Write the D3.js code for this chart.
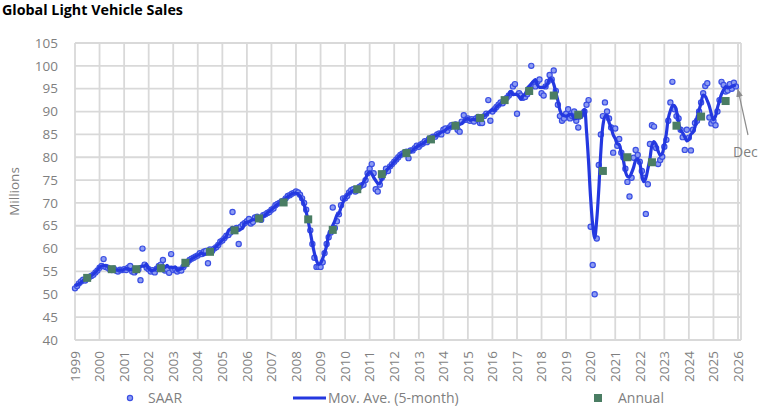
<!DOCTYPE html>
<html>
<head>
<meta charset="utf-8">
<script src="https://cdn.jsdelivr.net/npm/d3@7"></script>
<style>
  html, body { margin: 0; padding: 0; background: #fff; }
  svg { display: block; }
</style>
</head>
<body>
<div id="chart-container"></div>
<script>
// monthly SAAR, Jan..Dec for each year from 1999
const firstYear = 1999;
const saar = [
  51.3, 51.8, 52.4, 52.8, 53.2, 53.0, 53.5, 53.8, 54.0, 54.3, 54.8, 55.2, // 1999
  55.8, 56.2, 57.7, 56.0, 55.8, 55.5, 55.3, 55.6, 55.2, 55.0, 55.4, 55.3, // 2000
  55.5, 55.3, 55.8, 56.2, 55.0, 54.8, 55.4, 55.5, 53.1, 60.0, 56.5, 55.8, // 2001
  55.5, 55.0, 55.3, 54.8, 55.6, 56.2, 56.5, 57.5, 55.2, 55.5, 54.7, 58.8, // 2002
  55.3, 55.5, 55.0, 55.4, 55.2, 56.0, 56.5, 57.0, 57.5, 57.8, 58.0, 58.3, // 2003
  58.5, 59.0, 58.8, 59.3, 59.5, 56.8, 59.8, 59.5, 60.0, 60.3, 60.8, 61.5, // 2004
  61.8, 62.3, 62.8, 63.0, 63.5, 68.0, 64.2, 64.5, 61.0, 64.8, 65.3, 65.6, // 2005
  66.0, 66.5, 65.5, 65.8, 66.8, 67.0, 66.5, 66.3, 67.3, 67.5, 67.8, 68.0, // 2006
  68.5, 68.8, 69.5, 69.8, 70.0, 70.3, 70.5, 71.0, 71.5, 71.7, 72.0, 72.2, // 2007
  72.5, 72.3, 71.8, 71.0, 70.0, 68.5, 66.5, 64.0, 61.0, 58.0, 56.0, 56.0, // 2008
  56.0, 57.0, 59.0, 61.0, 62.5, 63.5, 69.0, 64.5, 66.0, 67.5, 69.5, 71.0, // 2009
  71.0, 71.5, 72.3, 72.8, 73.0, 72.5, 72.8, 73.5, 73.8, 74.0, 75.0, 76.5, // 2010
  77.5, 78.5, 76.5, 73.0, 72.5, 74.0, 75.5, 76.5, 77.5, 77.0, 78.0, 78.5, // 2011
  79.0, 79.5, 80.0, 80.5, 80.8, 81.0, 81.2, 79.8, 81.5, 81.5, 82.0, 82.5, // 2012
  82.3, 82.8, 83.0, 83.5, 83.3, 84.0, 84.2, 84.5, 84.5, 85.0, 85.2, 85.0, // 2013
  86.0, 86.3, 85.8, 86.5, 87.0, 86.8, 87.2, 86.0, 85.6, 87.8, 89.2, 88.2, // 2014
  88.5, 88.0, 88.3, 87.8, 88.5, 88.8, 87.5, 87.5, 89.0, 89.5, 92.5, 88.0, // 2015
  90.0, 90.5, 91.0, 91.5, 92.0, 91.8, 92.3, 93.0, 93.5, 94.0, 95.5, 96.0, // 2016
  89.5, 94.0, 93.5, 93.0, 93.2, 93.8, 95.0, 100.0, 96.0, 95.5, 96.5, 97.0, // 2017
  94.0, 93.5, 95.5, 96.5, 98.0, 97.0, 99.0, 94.5, 91.5, 89.0, 88.0, 88.5, // 2018
  89.5, 90.5, 88.5, 89.0, 90.0, 88.0, 86.5, 89.0, 89.5, 90.0, 91.5, 92.5, // 2019
  64.8, 56.4, 50.0, 62.2, 78.3, 85.0, 89.0, 92.0, 90.0, 88.5, 86.5, 81.0, // 2020
  86.3, 82.5, 84.0, 81.0, 80.0, 77.5, 74.6, 71.4, 75.5, 79.9, 81.6, 80.5, // 2021
  79.0, 77.0, 75.5, 67.6, 74.1, 82.9, 87.0, 86.7, 82.0, 78.5, 79.4, 80.1, // 2022
  82.3, 83.8, 88.0, 92.0, 96.5, 90.5, 89.0, 88.5, 86.0, 84.4, 81.6, 86.0, // 2023
  84.3, 81.5, 86.0, 87.5, 88.0, 90.0, 92.0, 94.0, 95.6, 96.2, 88.7, 87.4, // 2024
  88.0, 87.0, 90.0, 92.5, 96.5, 95.8, 94.4, 94.6, 96.0, 95.0, 96.3, 95.5  // 2025
];

const annualYears = d3.range(1999, 2026);
const annualSales = [
  53.6, 55.5, 55.5, 55.7, 56.9, 59.3, 64.0, 66.6, 70.1, 66.4,
  64.1, 73.0, 76.3, 80.9, 83.9, 86.9, 88.6, 92.5, 94.5, 93.5,
  89.3, 77.0, 80.0, 78.9, 86.9, 88.9, 92.3
];

const xTickYears = d3.range(1999, 2027);
const yTicks = d3.range(40, 106, 5);
const legendLabels = ['SAAR', 'Mov. Ave. (5-month)', 'Annual'];
const titleText = 'Global Light Vehicle Sales';
const yAxisTitle = 'Millions';
const noteText = 'Dec';

const width = 768;
const height = 413;
const margin = { top: 43, right: 27, bottom: 73, left: 75 };

const svg = d3.select('#chart-container')
    .append('svg')
    .attr('width', width)
    .attr('height', height);

const monthly = saar.map((v, i) => ({
  date: new Date(firstYear + Math.floor(i / 12), i % 12, 1),
  value: v
}));

// centred 5-month moving average
const movAve = monthly.map((d, i) => ({
  date: d.date,
  value: d3.mean(saar.slice(Math.max(0, i - 2), Math.min(saar.length, i + 3)))
}));

const x = d3.scaleTime()
    .domain([new Date(1999, 0, 1), new Date(2026, 0, 1)])
    .range([margin.left, 738]);
const y = d3.scaleLinear()
    .domain([40, 105])
    .range([height - margin.bottom, margin.top]);

const gridColor = '#d9d9d9';
const textColor = '#7f7f7f';
const axisFont = '"Open Sans", Lato, sans-serif';

// title
svg.append('text')
    .text(titleText)
    .attr('x', 2)
    .attr('y', 15)
    .attr('font-family', '"Open Sans", sans-serif')
    .attr('font-weight', 'bold')
    .attr('font-size', 14.3)
    .attr('fill', '#000');

// grid
const grid = svg.append('g');
grid.selectAll('.hgrid')
    .data(yTicks)
    .join('line')
    .attr('x1', margin.left)
    .attr('x2', 741)
    .attr('y1', d => y(d))
    .attr('y2', d => y(d))
    .attr('stroke', gridColor)
    .attr('stroke-width', 1.8);

grid.selectAll('.vgrid')
    .data(xTickYears)
    .join('line')
    .attr('x1', d => x(new Date(d, 0, 1)))
    .attr('x2', d => x(new Date(d, 0, 1)))
    .attr('y1', y(40))
    .attr('y2', y(105))
    .attr('stroke', gridColor)
    .attr('stroke-width', 1.8);

grid.append('line')
    .attr('x1', 741).attr('x2', 741)
    .attr('y1', y(40)).attr('y2', y(105))
    .attr('stroke', gridColor)
    .attr('stroke-width', 1.8);

// y labels
svg.append('g')
    .selectAll('text')
    .data(yTicks)
    .join('text')
    .text(d => d)
    .attr('x', 58)
    .attr('y', d => y(d))
    .attr('dy', '0.35em')
    .attr('text-anchor', 'end')
    .attr('font-family', axisFont)
    .attr('font-size', 13.5)
    .attr('fill', textColor);

// x labels, rotated
svg.append('g')
    .selectAll('text')
    .data(xTickYears)
    .join('text')
    .text(d => d)
    .attr('transform', d => `translate(${x(new Date(d, 0, 1))}, 351) rotate(-90)`)
    .attr('dy', '0.35em')
    .attr('text-anchor', 'end')
    .attr('font-family', axisFont)
    .attr('font-size', 13.5)
    .attr('fill', textColor);

svg.append('text')
    .text(yAxisTitle)
    .attr('transform', `translate(19, ${y(72.5)}) rotate(-90)`)
    .attr('text-anchor', 'middle')
    .attr('font-family', axisFont)
    .attr('font-size', 13.5)
    .attr('fill', textColor);

// SAAR points
const pointFill = '#8d9cf2';
const pointStroke = '#3b4fe3';
svg.append('g')
    .selectAll('circle')
    .data(monthly)
    .join('circle')
    .attr('cx', d => x(d.date))
    .attr('cy', d => y(d.value))
    .attr('r', 2.6)
    .attr('fill', pointFill)
    .attr('stroke', pointStroke)
    .attr('stroke-width', 1.2);

// moving average line
const line = d3.line()
    .x(d => x(d.date))
    .y(d => y(d.value))
    .curve(d3.curveCatmullRom);

svg.append('path')
    .datum(movAve)
    .attr('d', line)
    .attr('fill', 'none')
    .attr('stroke', '#2438e0')
    .attr('stroke-width', 3.2)
    .attr('stroke-linejoin', 'round');

// annual squares
const sq = 8;
svg.append('g')
    .selectAll('rect')
    .data(annualYears)
    .join('rect')
    .attr('x', (d, i) => x(new Date(d, 6, 1)) - sq / 2)
    .attr('y', (d, i) => y(annualSales[i]) - sq / 2)
    .attr('width', sq)
    .attr('height', sq)
    .attr('fill', '#4a7d63');

// Dec annotation
const last = monthly[monthly.length - 1];
svg.append('defs').append('marker')
    .attr('id', 'arrow')
    .attr('viewBox', '0 0 10 10')
    .attr('refX', 9).attr('refY', 5)
    .attr('markerWidth', 7).attr('markerHeight', 7)
    .attr('orient', 'auto-start-reverse')
    .append('path')
    .attr('d', 'M0,1 L10,5 L0,9 Z')
    .attr('fill', '#8c8c8c');

svg.append('line')
    .attr('x1', 748)
    .attr('y1', 135)
    .attr('x2', x(last.date) + 2)
    .attr('y2', y(last.value) + 3)
    .attr('stroke', '#8c8c8c')
    .attr('stroke-width', 1.2)
    .attr('marker-end', 'url(#arrow)');

svg.append('text')
    .text(noteText)
    .attr('x', 733)
    .attr('y', 157)
    .attr('font-family', axisFont)
    .attr('font-size', 14)
    .attr('fill', textColor);

// legend
const legendY = 398;
const legend = svg.append('g')
    .attr('font-family', axisFont)
    .attr('font-size', 14)
    .attr('fill', textColor);

legend.append('circle')
    .attr('cx', 130).attr('cy', legendY)
    .attr('r', 2.6)
    .attr('fill', pointFill)
    .attr('stroke', pointStroke)
    .attr('stroke-width', 1.2);
legend.append('text')
    .text(legendLabels[0])
    .attr('x', 148).attr('y', legendY).attr('dy', '0.35em');

legend.append('line')
    .attr('x1', 293).attr('x2', 326)
    .attr('y1', legendY).attr('y2', legendY)
    .attr('stroke', '#2438e0')
    .attr('stroke-width', 3.2);
legend.append('text')
    .text(legendLabels[1])
    .attr('x', 328).attr('y', legendY).attr('dy', '0.35em');

legend.append('rect')
    .attr('x', 594).attr('y', legendY - 4)
    .attr('width', sq).attr('height', sq)
    .attr('fill', '#4a7d63');
legend.append('text')
    .text(legendLabels[2])
    .attr('x', 618).attr('y', legendY).attr('dy', '0.35em');
</script>
</body>
</html>
